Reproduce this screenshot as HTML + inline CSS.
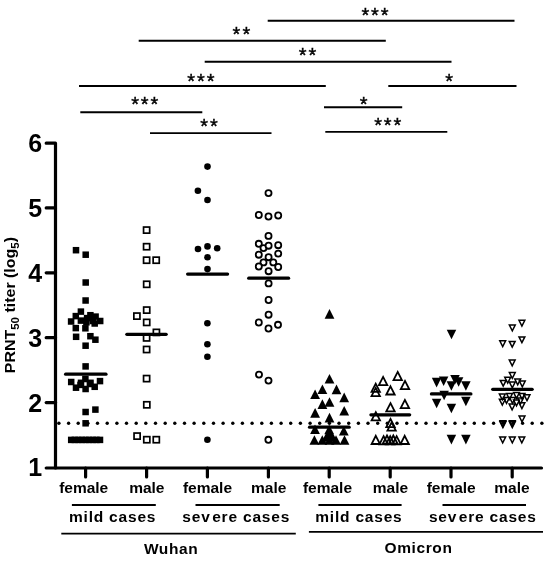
<!DOCTYPE html><html><head><meta charset="utf-8"><style>html,body{margin:0;padding:0;background:#fff;}svg{display:block;}text{font-family:"Liberation Sans",Arial,sans-serif;}</style></head><body>
<svg width="550" height="561" viewBox="0 0 550 561">
<rect width="550" height="561" fill="#fff"/>
<line x1="267.7" y1="20.7" x2="514.5" y2="20.7" stroke="#000" stroke-width="1.9"/>
<line x1="138.7" y1="40.8" x2="385.8" y2="40.8" stroke="#000" stroke-width="1.9"/>
<line x1="204.7" y1="61.8" x2="451.5" y2="61.8" stroke="#000" stroke-width="1.9"/>
<line x1="79.0" y1="85.95" x2="325.8" y2="85.95" stroke="#000" stroke-width="1.9"/>
<line x1="388.3" y1="86.0" x2="516.5" y2="86.0" stroke="#000" stroke-width="1.9"/>
<line x1="80.3" y1="112.2" x2="202.3" y2="112.2" stroke="#000" stroke-width="1.9"/>
<line x1="150.0" y1="133.1" x2="271.5" y2="133.1" stroke="#000" stroke-width="1.9"/>
<line x1="324.0" y1="107.2" x2="402.2" y2="107.2" stroke="#000" stroke-width="1.9"/>
<line x1="325.3" y1="131.9" x2="447.3" y2="131.9" stroke="#000" stroke-width="1.9"/>
<g font-size="20" text-anchor="middle" stroke="#000" stroke-width="0.4">
<text x="365.30" y="21.55">*</text>
<text x="374.95" y="21.55">*</text>
<text x="384.75" y="21.55">*</text>
<text x="236.50" y="41.00">*</text>
<text x="246.40" y="41.00">*</text>
<text x="302.60" y="62.00">*</text>
<text x="312.30" y="62.00">*</text>
<text x="191.05" y="88.00">*</text>
<text x="200.95" y="88.00">*</text>
<text x="210.75" y="88.00">*</text>
<text x="449.20" y="87.95">*</text>
<text x="135.05" y="110.85">*</text>
<text x="144.75" y="110.85">*</text>
<text x="154.40" y="110.85">*</text>
<text x="204.25" y="133.45">*</text>
<text x="214.00" y="133.45">*</text>
<text x="363.70" y="110.85">*</text>
<text x="378.05" y="131.95">*</text>
<text x="387.75" y="131.95">*</text>
<text x="397.50" y="131.95">*</text>
</g>
<g stroke="#000" stroke-width="3.2" fill="none" stroke-linecap="round" stroke-linejoin="round">
<path d="M46.2,143.2 H55.5 V468 H541.5"/>
<line x1="46.2" y1="468" x2="55.5" y2="468"/>
<line x1="46.2" y1="402.6" x2="55.5" y2="402.6"/>
<line x1="46.2" y1="337.7" x2="55.5" y2="337.7"/>
<line x1="46.2" y1="272.8" x2="55.5" y2="272.8"/>
<line x1="46.2" y1="207.9" x2="55.5" y2="207.9"/>
<line x1="85.6" y1="468" x2="85.6" y2="477"/>
<line x1="146.6" y1="468" x2="146.6" y2="477"/>
<line x1="207.4" y1="468" x2="207.4" y2="477"/>
<line x1="268.4" y1="468" x2="268.4" y2="477"/>
<line x1="329.2" y1="468" x2="329.2" y2="477"/>
<line x1="390.2" y1="468" x2="390.2" y2="477"/>
<line x1="451.0" y1="468" x2="451.0" y2="477"/>
<line x1="512.2" y1="468" x2="512.2" y2="477"/>
</g>
<text x="42.2" y="476.4" font-size="25" font-weight="bold" text-anchor="end">1</text>
<text x="42.2" y="411.5" font-size="25" font-weight="bold" text-anchor="end">2</text>
<text x="42.2" y="346.6" font-size="25" font-weight="bold" text-anchor="end">3</text>
<text x="42.2" y="281.7" font-size="25" font-weight="bold" text-anchor="end">4</text>
<text x="42.2" y="216.8" font-size="25" font-weight="bold" text-anchor="end">5</text>
<text x="42.2" y="151.9" font-size="25" font-weight="bold" text-anchor="end">6</text>
<text transform="translate(15.4,373.2) rotate(-90) scale(1.1,1)" font-size="14.5" font-weight="bold">PRNT<tspan font-size="10.5" dy="3.3">50</tspan><tspan dy="-3.3"> titer (log</tspan><tspan font-size="10.5" dy="3.3">5</tspan><tspan dy="-3.3">)</tspan></text>
<text x="83.7" y="492.6" font-size="15.5" font-weight="bold" text-anchor="middle">female</text>
<text x="146.8" y="492.6" font-size="15.5" font-weight="bold" text-anchor="middle">male</text>
<text x="207.5" y="492.6" font-size="15.5" font-weight="bold" text-anchor="middle">female</text>
<text x="268.7" y="492.6" font-size="15.5" font-weight="bold" text-anchor="middle">male</text>
<text x="327.5" y="492.6" font-size="15.5" font-weight="bold" text-anchor="middle">female</text>
<text x="390.5" y="492.6" font-size="15.5" font-weight="bold" text-anchor="middle">male</text>
<text x="451.2" y="492.6" font-size="15.5" font-weight="bold" text-anchor="middle">female</text>
<text x="512.0" y="492.6" font-size="15.5" font-weight="bold" text-anchor="middle">male</text>
<line x1="71.9" y1="505.0" x2="155.8" y2="505.0" stroke="#000" stroke-width="2"/>
<line x1="195.5" y1="505.0" x2="279.7" y2="505.0" stroke="#000" stroke-width="2"/>
<line x1="318.4" y1="505.0" x2="401.6" y2="505.0" stroke="#000" stroke-width="2"/>
<line x1="442.5" y1="505.0" x2="526" y2="505.0" stroke="#000" stroke-width="2"/>
<text x="112.6" y="521.9" font-size="15.5" font-weight="bold" text-anchor="middle" letter-spacing="0.8">mild cases</text>
<text x="236.2" y="521.9" font-size="15.5" font-weight="bold" text-anchor="middle" letter-spacing="0.8">sev<tspan dx="1.6">ere</tspan> cases</text>
<text x="358.9" y="521.9" font-size="15.5" font-weight="bold" text-anchor="middle" letter-spacing="0.8">mild cases</text>
<text x="482.8" y="521.9" font-size="15.5" font-weight="bold" text-anchor="middle" letter-spacing="0.8">sev<tspan dx="1.6">ere</tspan> cases</text>
<line x1="61.3" y1="533.6" x2="295.8" y2="533.6" stroke="#000" stroke-width="1.8"/>
<line x1="308.9" y1="531.8" x2="543" y2="531.8" stroke="#000" stroke-width="1.8"/>
<text x="171.1" y="553.8" font-size="15.5" font-weight="bold" text-anchor="middle" letter-spacing="0.6">Wuhan</text>
<text x="418.5" y="552.5" font-size="15.5" font-weight="bold" text-anchor="middle" letter-spacing="0.6">Omicron</text>
<g fill="#000"><circle cx="58.9" cy="423.2" r="1.7"/><circle cx="68.6" cy="423.2" r="1.7"/><circle cx="78.2" cy="423.2" r="1.7"/><circle cx="87.9" cy="423.2" r="1.7"/><circle cx="97.5" cy="423.2" r="1.7"/><circle cx="107.2" cy="423.2" r="1.7"/><circle cx="116.9" cy="423.2" r="1.7"/><circle cx="126.5" cy="423.2" r="1.7"/><circle cx="136.2" cy="423.2" r="1.7"/><circle cx="145.8" cy="423.2" r="1.7"/><circle cx="155.5" cy="423.2" r="1.7"/><circle cx="165.2" cy="423.2" r="1.7"/><circle cx="174.8" cy="423.2" r="1.7"/><circle cx="184.5" cy="423.2" r="1.7"/><circle cx="194.1" cy="423.2" r="1.7"/><circle cx="203.8" cy="423.2" r="1.7"/><circle cx="213.5" cy="423.2" r="1.7"/><circle cx="223.1" cy="423.2" r="1.7"/><circle cx="232.8" cy="423.2" r="1.7"/><circle cx="242.4" cy="423.2" r="1.7"/><circle cx="252.1" cy="423.2" r="1.7"/><circle cx="261.8" cy="423.2" r="1.7"/><circle cx="271.4" cy="423.2" r="1.7"/><circle cx="281.1" cy="423.2" r="1.7"/><circle cx="290.7" cy="423.2" r="1.7"/><circle cx="300.4" cy="423.2" r="1.7"/><circle cx="310.1" cy="423.2" r="1.7"/><circle cx="319.7" cy="423.2" r="1.7"/><circle cx="329.4" cy="423.2" r="1.7"/><circle cx="339.0" cy="423.2" r="1.7"/><circle cx="348.7" cy="423.2" r="1.7"/><circle cx="358.4" cy="423.2" r="1.7"/><circle cx="368.0" cy="423.2" r="1.7"/><circle cx="377.7" cy="423.2" r="1.7"/><circle cx="387.3" cy="423.2" r="1.7"/><circle cx="397.0" cy="423.2" r="1.7"/><circle cx="406.7" cy="423.2" r="1.7"/><circle cx="416.3" cy="423.2" r="1.7"/><circle cx="426.0" cy="423.2" r="1.7"/><circle cx="435.6" cy="423.2" r="1.7"/><circle cx="445.3" cy="423.2" r="1.7"/><circle cx="455.0" cy="423.2" r="1.7"/><circle cx="464.6" cy="423.2" r="1.7"/><circle cx="474.3" cy="423.2" r="1.7"/><circle cx="483.9" cy="423.2" r="1.7"/><circle cx="493.6" cy="423.2" r="1.7"/><circle cx="503.3" cy="423.2" r="1.7"/><circle cx="512.9" cy="423.2" r="1.7"/><circle cx="522.6" cy="423.2" r="1.7"/><circle cx="532.2" cy="423.2" r="1.7"/><circle cx="541.9" cy="423.2" r="1.7"/></g>
<g fill="#000">
<rect x="72.75" y="246.95" width="6.5" height="6.5"/>
<rect x="82.45" y="251.45" width="6.5" height="6.5"/>
<rect x="82.45" y="279.25" width="6.5" height="6.5"/>
<rect x="82.35" y="297.25" width="6.5" height="6.5"/>
<rect x="77.65" y="308.35" width="6.5" height="6.5"/>
<rect x="72.55" y="312.85" width="6.5" height="6.5"/>
<rect x="87.15" y="311.95" width="6.5" height="6.5"/>
<rect x="92.35" y="313.35" width="6.5" height="6.5"/>
<rect x="67.85" y="318.25" width="6.5" height="6.5"/>
<rect x="96.95" y="317.75" width="6.5" height="6.5"/>
<rect x="72.55" y="324.85" width="6.5" height="6.5"/>
<rect x="82.15" y="325.05" width="6.5" height="6.5"/>
<rect x="77.65" y="317.35" width="6.5" height="6.5"/>
<rect x="83.85" y="314.85" width="6.5" height="6.5"/>
<rect x="83.15" y="319.05" width="6.5" height="6.5"/>
<rect x="89.65" y="317.75" width="6.5" height="6.5"/>
<rect x="91.45" y="320.25" width="6.5" height="6.5"/>
<rect x="72.85" y="333.55" width="6.5" height="6.5"/>
<rect x="87.15" y="332.95" width="6.5" height="6.5"/>
<rect x="92.15" y="336.45" width="6.5" height="6.5"/>
<rect x="82.35" y="342.45" width="6.5" height="6.5"/>
<rect x="82.35" y="363.15" width="6.5" height="6.5"/>
<rect x="67.95" y="378.75" width="6.5" height="6.5"/>
<rect x="96.75" y="377.85" width="6.5" height="6.5"/>
<rect x="82.15" y="375.75" width="6.5" height="6.5"/>
<rect x="77.75" y="379.55" width="6.5" height="6.5"/>
<rect x="87.25" y="379.55" width="6.5" height="6.5"/>
<rect x="72.75" y="384.45" width="6.5" height="6.5"/>
<rect x="82.35" y="385.75" width="6.5" height="6.5"/>
<rect x="91.45" y="383.55" width="6.5" height="6.5"/>
<rect x="77.25" y="381.65" width="6.5" height="6.5"/>
<rect x="86.65" y="380.75" width="6.5" height="6.5"/>
<rect x="92.15" y="406.35" width="6.5" height="6.5"/>
<rect x="82.35" y="408.75" width="6.5" height="6.5"/>
<rect x="82.35" y="420.05" width="6.5" height="6.5"/>
<rect x="67.95" y="436.65" width="6.5" height="6.5"/>
<rect x="71.55" y="436.65" width="6.5" height="6.5"/>
<rect x="75.15" y="436.65" width="6.5" height="6.5"/>
<rect x="78.75" y="436.65" width="6.5" height="6.5"/>
<rect x="82.35" y="436.65" width="6.5" height="6.5"/>
<rect x="85.95" y="436.65" width="6.5" height="6.5"/>
<rect x="89.55" y="436.65" width="6.5" height="6.5"/>
<rect x="93.15" y="436.65" width="6.5" height="6.5"/>
<rect x="96.75" y="436.65" width="6.5" height="6.5"/>
</g>
<g fill="none" stroke="#000" stroke-width="1.7">
<rect x="143.55" y="227.05" width="6.10" height="6.10"/>
<rect x="143.55" y="243.65" width="6.10" height="6.10"/>
<rect x="143.55" y="257.15" width="6.10" height="6.10"/>
<rect x="153.15" y="257.15" width="6.10" height="6.10"/>
<rect x="143.65" y="281.25" width="6.10" height="6.10"/>
<rect x="143.65" y="307.05" width="6.10" height="6.10"/>
<rect x="133.85" y="313.05" width="6.10" height="6.10"/>
<rect x="143.65" y="319.35" width="6.10" height="6.10"/>
<rect x="153.35" y="329.35" width="6.10" height="6.10"/>
<rect x="143.55" y="334.85" width="6.10" height="6.10"/>
<rect x="143.55" y="346.45" width="6.10" height="6.10"/>
<rect x="143.55" y="375.55" width="6.10" height="6.10"/>
<rect x="143.75" y="401.75" width="6.10" height="6.10"/>
<rect x="134.05" y="433.05" width="6.10" height="6.10"/>
<rect x="143.75" y="436.65" width="6.10" height="6.10"/>
<rect x="153.25" y="436.65" width="6.10" height="6.10"/>
</g>
<g fill="#000">
<circle cx="207.5" cy="166.6" r="3.3"/>
<circle cx="197.9" cy="190.7" r="3.3"/>
<circle cx="207.5" cy="200" r="3.3"/>
<circle cx="198" cy="249" r="3.3"/>
<circle cx="207.5" cy="246.4" r="3.3"/>
<circle cx="217.2" cy="248.2" r="3.3"/>
<circle cx="207.5" cy="257.2" r="3.3"/>
<circle cx="207.5" cy="269.1" r="3.3"/>
<circle cx="207.4" cy="323.3" r="3.3"/>
<circle cx="207.4" cy="344.3" r="3.3"/>
<circle cx="207.4" cy="356.8" r="3.3"/>
<circle cx="207.4" cy="439.7" r="3.3"/>
</g>
<g fill="#fff" stroke="#000" stroke-width="1.8">
<circle cx="268.5" cy="193.1" r="3.05"/>
<circle cx="258.8" cy="215" r="3.05"/>
<circle cx="268.5" cy="216.5" r="3.05"/>
<circle cx="278.2" cy="215.5" r="3.05"/>
<circle cx="268.5" cy="235.9" r="3.05"/>
<circle cx="258.8" cy="243.8" r="3.05"/>
<circle cx="263.5" cy="248.1" r="3.05"/>
<circle cx="278.2" cy="245.2" r="3.05"/>
<circle cx="268.6" cy="245.7" r="3.05"/>
<circle cx="258.8" cy="254.7" r="3.05"/>
<circle cx="278.2" cy="253.6" r="3.05"/>
<circle cx="268.6" cy="257.2" r="3.05"/>
<circle cx="263.5" cy="262.4" r="3.05"/>
<circle cx="273.3" cy="262.4" r="3.05"/>
<circle cx="258.8" cy="266.5" r="3.05"/>
<circle cx="278.2" cy="267" r="3.05"/>
<circle cx="268.6" cy="271.2" r="3.05"/>
<circle cx="268.6" cy="283.4" r="3.05"/>
<circle cx="268.6" cy="300" r="3.05"/>
<circle cx="268.6" cy="314.7" r="3.05"/>
<circle cx="258.8" cy="322.5" r="3.05"/>
<circle cx="278" cy="324.8" r="3.05"/>
<circle cx="268.5" cy="328.5" r="3.05"/>
<circle cx="259" cy="374.6" r="3.05"/>
<circle cx="268.5" cy="380.6" r="3.05"/>
<circle cx="268.4" cy="439.8" r="3.05"/>
</g>
<g fill="#000">
<path d="M329.50,309.10 L334.40,318.70 L324.60,318.70Z"/>
<path d="M329.50,373.90 L334.40,383.50 L324.60,383.50Z"/>
<path d="M322.40,384.40 L327.30,394.00 L317.50,394.00Z"/>
<path d="M336.50,384.60 L341.40,394.20 L331.60,394.20Z"/>
<path d="M315.10,389.50 L320.00,399.10 L310.20,399.10Z"/>
<path d="M344.20,392.60 L349.10,402.20 L339.30,402.20Z"/>
<path d="M329.50,397.20 L334.40,406.80 L324.60,406.80Z"/>
<path d="M322.40,399.30 L327.30,408.90 L317.50,408.90Z"/>
<path d="M315.10,408.10 L320.00,417.70 L310.20,417.70Z"/>
<path d="M344.20,406.00 L349.10,415.60 L339.30,415.60Z"/>
<path d="M329.50,412.80 L334.40,422.40 L324.60,422.40Z"/>
<path d="M315.00,424.50 L319.90,434.10 L310.10,434.10Z"/>
<path d="M343.80,425.90 L348.70,435.50 L338.90,435.50Z"/>
<path d="M329.20,424.70 L334.10,434.30 L324.30,434.30Z"/>
<path d="M329.50,429.20 L334.40,438.80 L324.60,438.80Z"/>
<path d="M326.50,432.20 L331.40,441.80 L321.60,441.80Z"/>
<path d="M332.50,432.20 L337.40,441.80 L327.60,441.80Z"/>
<path d="M314.40,435.20 L319.30,444.80 L309.50,444.80Z"/>
<path d="M322.30,435.20 L327.20,444.80 L317.40,444.80Z"/>
<path d="M329.50,435.20 L334.40,444.80 L324.60,444.80Z"/>
<path d="M336.00,435.20 L340.90,444.80 L331.10,444.80Z"/>
<path d="M344.50,435.20 L349.40,444.80 L339.60,444.80Z"/>
</g>
<g fill="none" stroke="#000" stroke-width="1.8" stroke-linejoin="miter">
<path d="M397.70,371.90 L401.90,380.10 L393.50,380.10Z"/>
<path d="M383.10,376.90 L387.30,385.10 L378.90,385.10Z"/>
<path d="M405.00,380.90 L409.20,389.10 L400.80,389.10Z"/>
<path d="M375.70,383.70 L379.90,391.90 L371.50,391.90Z"/>
<path d="M375.70,387.90 L379.90,396.10 L371.50,396.10Z"/>
<path d="M390.50,386.30 L394.70,394.50 L386.30,394.50Z"/>
<path d="M404.90,399.90 L409.10,408.10 L400.70,408.10Z"/>
<path d="M390.50,403.20 L394.70,411.40 L386.30,411.40Z"/>
<path d="M375.80,412.20 L380.00,420.40 L371.60,420.40Z"/>
<path d="M390.50,418.90 L394.70,427.10 L386.30,427.10Z"/>
<path d="M391.60,422.40 L395.80,430.60 L387.40,430.60Z"/>
<path d="M375.80,435.80 L380.00,444.00 L371.60,444.00Z"/>
<path d="M383.60,436.10 L387.80,444.30 L379.40,444.30Z"/>
<path d="M387.00,435.50 L391.20,443.70 L382.80,443.70Z"/>
<path d="M390.20,436.10 L394.40,444.30 L386.00,444.30Z"/>
<path d="M393.30,435.50 L397.50,443.70 L389.10,443.70Z"/>
<path d="M396.60,436.10 L400.80,444.30 L392.40,444.30Z"/>
<path d="M404.70,435.80 L408.90,444.00 L400.50,444.00Z"/>
</g>
<g fill="#000">
<path d="M446.75,329.70 L456.25,329.70 L451.50,339.30Z"/>
<path d="M431.85,377.80 L441.35,377.80 L436.60,387.40Z"/>
<path d="M438.85,376.50 L448.35,376.50 L443.60,386.10Z"/>
<path d="M450.25,375.00 L459.75,375.00 L455.00,384.60Z"/>
<path d="M453.85,377.20 L463.35,377.20 L458.60,386.80Z"/>
<path d="M446.65,381.20 L456.15,381.20 L451.40,390.80Z"/>
<path d="M461.15,381.20 L470.65,381.20 L465.90,390.80Z"/>
<path d="M439.35,390.70 L448.85,390.70 L444.10,400.30Z"/>
<path d="M431.85,398.70 L441.35,398.70 L436.60,408.30Z"/>
<path d="M461.15,396.70 L470.65,396.70 L465.90,406.30Z"/>
<path d="M446.65,403.70 L456.15,403.70 L451.40,413.30Z"/>
<path d="M446.65,434.80 L456.15,434.80 L451.40,444.40Z"/>
<path d="M461.15,434.80 L470.65,434.80 L465.90,444.40Z"/>
</g>
<g fill="none" stroke="#000" stroke-width="1.5">
<path d="M518.98,320.32 L524.82,320.32 L521.90,326.07Z"/>
<path d="M509.37,325.12 L515.22,325.12 L512.30,330.88Z"/>
<path d="M518.98,336.93 L524.82,336.93 L521.90,342.68Z"/>
<path d="M499.77,340.82 L505.62,340.82 L502.70,346.57Z"/>
<path d="M509.28,341.43 L515.12,341.43 L512.20,347.18Z"/>
<path d="M509.28,360.02 L515.12,360.02 L512.20,365.77Z"/>
<path d="M509.37,372.62 L515.22,372.62 L512.30,378.38Z"/>
<path d="M504.77,377.32 L510.62,377.32 L507.70,383.07Z"/>
<path d="M514.78,379.12 L520.62,379.12 L517.70,384.88Z"/>
<path d="M500.27,380.43 L506.12,380.43 L503.20,386.18Z"/>
<path d="M519.38,381.12 L525.22,381.12 L522.30,386.88Z"/>
<path d="M509.37,382.12 L515.22,382.12 L512.30,387.88Z"/>
<path d="M499.38,394.12 L505.23,394.12 L502.30,399.88Z"/>
<path d="M506.57,393.62 L512.42,393.62 L509.50,399.38Z"/>
<path d="M513.58,392.62 L519.42,392.62 L516.50,398.38Z"/>
<path d="M519.08,393.43 L524.92,393.43 L522.00,399.18Z"/>
<path d="M524.08,394.82 L529.92,394.82 L527.00,400.57Z"/>
<path d="M503.57,397.62 L509.43,397.62 L506.50,403.38Z"/>
<path d="M517.58,398.12 L523.42,398.12 L520.50,403.88Z"/>
<path d="M509.57,397.62 L515.42,397.62 L512.50,403.38Z"/>
<path d="M513.58,400.12 L519.42,400.12 L516.50,405.88Z"/>
<path d="M499.38,399.32 L505.23,399.32 L502.30,405.07Z"/>
<path d="M509.18,404.12 L515.02,404.12 L512.10,409.88Z"/>
<path d="M518.98,402.73 L524.82,402.73 L521.90,408.48Z"/>
<path d="M519.08,416.12 L524.92,416.12 L522.00,421.88Z"/>
<path d="M499.97,420.73 L505.82,420.73 L502.90,426.48Z"/>
<path d="M499.97,421.73 L505.82,421.73 L502.90,427.48Z"/>
<path d="M509.37,420.73 L515.22,420.73 L512.30,426.48Z"/>
<path d="M509.37,421.73 L515.22,421.73 L512.30,427.48Z"/>
<path d="M499.77,437.12 L505.62,437.12 L502.70,442.88Z"/>
<path d="M509.37,437.12 L515.22,437.12 L512.30,442.88Z"/>
<path d="M518.88,437.12 L524.72,437.12 L521.80,442.88Z"/>
</g>
<g stroke="#000" stroke-width="3.2" stroke-linecap="round">
<line x1="65.6" y1="374.2" x2="106.0" y2="374.2"/>
<line x1="126.8" y1="334.3" x2="166.20000000000002" y2="334.3"/>
<line x1="187.6" y1="274.1" x2="227.6" y2="274.1"/>
<line x1="248.7" y1="278.2" x2="288.59999999999997" y2="278.2"/>
<line x1="309.5" y1="427.2" x2="349.2" y2="427.2"/>
<line x1="370.90000000000003" y1="414.8" x2="409.7" y2="414.8"/>
<line x1="431.40000000000003" y1="393.9" x2="470.9" y2="393.9"/>
<line x1="492.70000000000005" y1="389.3" x2="532.1999999999999" y2="389.3"/>
</g>
</svg></body></html>
